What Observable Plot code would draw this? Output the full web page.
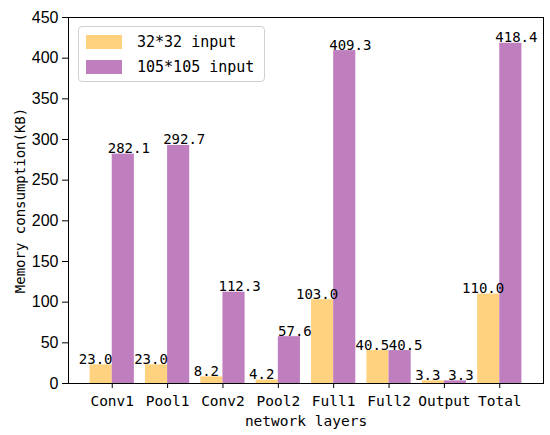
<!DOCTYPE html>
<html>
<head>
<meta charset="utf-8">
<script src="https://cdn.jsdelivr.net/npm/d3@7"></script>
<script src="https://cdn.jsdelivr.net/npm/@observablehq/plot@0.6"></script>
<style>
  html, body { margin: 0; padding: 0; background: #fff; }
  #wrap { position: relative; width: 550px; height: 435px; }
  #legend {
    position: absolute; left: 78px; top: 26px; width: 187px; height: 56px;
    border: 1px solid #d0d0d0; border-radius: 4px; background: rgba(255,255,255,0.8);
    box-sizing: border-box; font-family: "DejaVu Sans Mono", monospace; font-size: 15px; color: #000;
  }
  .item { position: absolute; left: 7px; height: 15px; display: flex; align-items: center; }
  .sw { width: 36px; height: 14px; margin-right: 15px; }
</style>
</head>
<body>
<div id="wrap"></div>
<script>
const categories = ["Conv1", "Pool1", "Conv2", "Pool2", "Full1", "Full2", "Output", "Total"];
const small = [23.0, 23.0, 8.2, 4.2, 103.0, 40.5, 3.3, 110.0];
const large = [282.1, 292.7, 112.3, 57.6, 409.3, 40.5, 3.3, 418.4];
const seriesNames = ["32*32 input", "105*105 input"];
const colors = ["#FFD27F", "#BF7FBF"];
const yTicks = [0, 50, 100, 150, 200, 250, 300, 350, 400, 450];

const barW = 0.4;
const rows = [];
[small, large].forEach((vals, s) => {
  vals.forEach((v, i) => rows.push({i, s, cat: categories[i], series: seriesNames[s], value: v}));
});

const mono = "DejaVu Sans Mono, monospace";
const sans = "Liberation Sans, Arial, sans-serif";

const chart = Plot.plot({
  width: 550,
  height: 435,
  marginLeft: 68,
  marginRight: 7,
  marginTop: 17,
  marginBottom: 52,
  style: {fontFamily: mono, fontSize: "14px", color: "#000", background: "#fff"},
  x: {type: "linear", domain: [-0.79, 7.79]},
  y: {domain: [0, 450]},
  color: {domain: seriesNames, range: colors},
  marks: [
    Plot.rectY(rows, {
      x1: d => d.i - barW + d.s * barW,
      x2: d => d.i + d.s * barW,
      y1: 0,
      y2: "value",
      fill: "series"
    }),
    Plot.text(rows, {
      x: d => d.i - 0.3 + d.s * 0.6,
      y: "value",
      text: d => d.value.toFixed(1),
      lineAnchor: "bottom",
      dy: -1,
      fontSize: 14,
      fill: "#000"
    }),
    Plot.frame({stroke: "#000", strokeWidth: 1}),
    Plot.axisX(d3.range(categories.length), {
      tickFormat: i => categories[i],
      tickSize: 5,
      tickPadding: 7,
      fontSize: 14.5,
      label: "network layers",
      labelAnchor: "center",
      labelArrow: "none",
      labelOffset: 42
    }),
    Plot.axisY(yTicks, {
      tickSize: 6,
      tickPadding: 4,
      fontSize: 16,
      fontFamily: sans,
      label: null
    }),
    Plot.axisY({
      ticks: [],
      tickSize: 0,
      label: "Memory consumption(KB)",
      labelAnchor: "center",
      labelArrow: "none",
      labelOffset: 53,
      fontSize: 14
    })
  ]
});

const wrap = document.getElementById("wrap");
wrap.appendChild(chart);

const legend = document.createElement("div");
legend.id = "legend";
seriesNames.forEach((name, k) => {
  const item = document.createElement("div");
  item.className = "item";
  item.style.top = (k === 0 ? 7 : 32) + "px";
  const sw = document.createElement("div");
  sw.className = "sw";
  sw.style.background = colors[k];
  const lab = document.createElement("span");
  lab.textContent = name;
  item.appendChild(sw);
  item.appendChild(lab);
  legend.appendChild(item);
});
wrap.appendChild(legend);
</script>
</body>
</html>
